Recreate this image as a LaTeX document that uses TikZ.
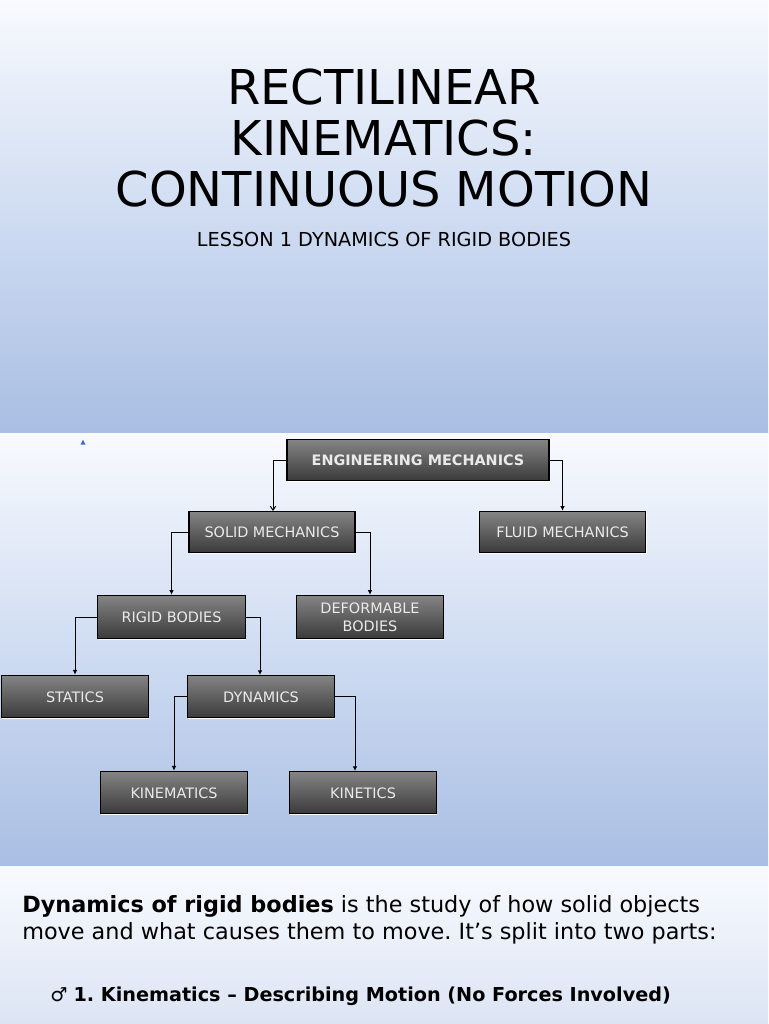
\documentclass[tikz,border=0pt]{standalone}
\usepackage{fontspec}
\setmainfont{DejaVu Sans}
\usetikzlibrary{arrows.meta,shadows}
\definecolor{panellight}{HTML}{F8FAFE}
\definecolor{panelmid}{HTML}{CFDCF2}
\definecolor{paneldark}{HTML}{A9BEE3}
\definecolor{paneltail}{HTML}{DCE4F4}
\definecolor{boxtop}{HTML}{858585}
\definecolor{boxbottom}{HTML}{3A3A3A}
\definecolor{boxtext}{HTML}{EAEAEA}
\definecolor{markblue}{HTML}{3E6FD0}
\tikzset{
>={Latex[width=3.5pt,length=3.5pt]},
panel/.style={top color=panellight, bottom color=paneldark, middle color=panelmid},
box/.style={rectangle, draw=black, line width=0.8pt, top color=boxtop, bottom color=boxbottom,
            text=boxtext, align=center, inner sep=0pt, font=\fontsize{10.8}{13.5}\selectfont,
            drop shadow={shadow xshift=0.5pt, shadow yshift=-1.2pt, fill=white, opacity=0.9}},
wide/.style={box, minimum width=110.5pt, minimum height=32pt},
low/.style={wide, text height=9pt},
link/.style={line width=0.7pt, black},
openlink/.style={line width=0.7pt, black, -{Straight Barb[width=4pt,length=3pt]}},
}
\begin{document}
\begin{tikzpicture}[x=0.75pt,y=0.75pt]

    \useasboundingbox (0,0) rectangle (768,-1024);

    \shade[panel] (0,0) rectangle (768,-433);
    \shade[panel] (0,-433) rectangle (768,-866);
    \shade[top color=panellight, bottom color=paneltail] (0,-866) rectangle (768,-1024);

    \node[align=center, font=\fontsize{36}{38.5}\selectfont] (title) at(384,-138)  {RECTILINEAR\\KINEMATICS:\\CONTINUOUS MOTION};
    \node[font=\fontsize{14.43}{16}\selectfont] (lesson) at(384,-239)  {LESSON 1 DYNAMICS OF RIGID BODIES};

    \fill[markblue] (80.5,-444.5) -- (83,-439.5) -- (85.5,-444.5) -- cycle;

    \node[box, minimum width=196.5pt, minimum height=31pt, font=\fontsize{10.8}{13.5}\selectfont\bfseries] (engineering) at(418,-460)  {ENGINEERING MECHANICS};
    \node[box, minimum width=124.5pt, minimum height=31pt] (solid) at(272,-532)  {SOLID MECHANICS};
    \node[box, minimum width=125pt, minimum height=31pt] (fluid) at(562.5,-532)  {FLUID MECHANICS};

    \node[wide, minimum height=32.5pt] (rigid) at(171.5,-617)  {RIGID BODIES};
    \node[wide, minimum height=32.5pt] (deformable) at(370,-617)  {DEFORMABLE\\BODIES};

    \node[low] (statics) at(75,-696.5)  {STATICS};
    \node[low] (dynamics) at(261,-696.5)  {DYNAMICS};

    \node[low] (kinematics) at(174,-792.5)  {KINEMATICS};
    \node[low] (kinetics) at(363,-792.5)  {KINETICS};

    \coordinate (solidtop) at(273,-511);
    \coordinate (dynamicstop) at(260,-675);
    \coordinate (kineticstop) at(355,-771);

    \draw[openlink] (engineering)  -| (solidtop) ;
    \draw[link,->] (engineering)  -| (fluid.north) ;

    \draw[link,->] (solid)  -| (rigid.north) ;
    \draw[link,->] (solid)  -| (deformable.north) ;

    \draw[link,->] (rigid)  -| (statics.north) ;
    \draw[link,->] (rigid)  -| (dynamicstop) ;

    \draw[link,->] (dynamics)  -| (kinematics.north) ;
    \draw[link,->] (dynamics)  -| (kineticstop) ;

    \node[anchor=base west, align=left, inner sep=0pt, font=\fontsize{16.75}{20.2}\selectfont\frenchspacing] (intro) at(22,-939)  {\textbf{Dynamics of rigid bodies} is the study of how solid objects\\move and what causes them to move. It’s split into two parts:};
    \node[anchor=base west, inner sep=0pt, font=\fontsize{14.4}{18}\selectfont\frenchspacing] (part) at(50,-1001)  {♂ \textbf{1. Kinematics – Describing Motion (No Forces Involved)}};

\end{tikzpicture}
\end{document}
